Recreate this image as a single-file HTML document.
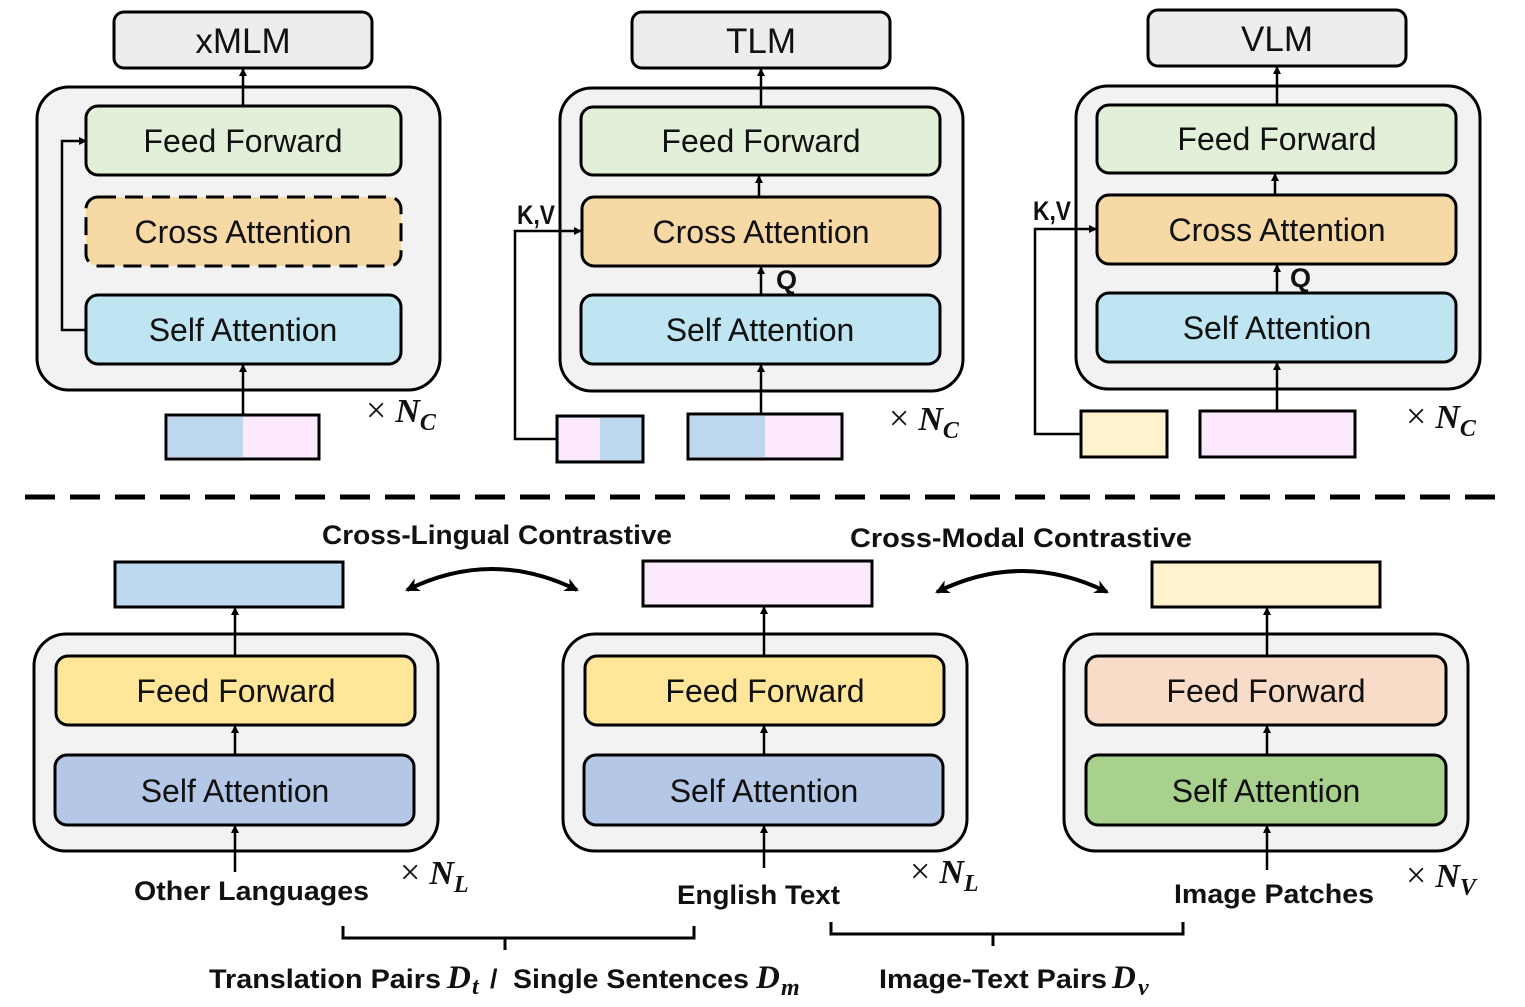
<!DOCTYPE html>
<html><head><meta charset="utf-8"><style>
html,body{margin:0;padding:0;background:#fff;}
svg{display:block;}
text{font-family:"Liberation Sans",sans-serif;}
.b{font-size:32px;fill:#111;text-anchor:middle;}
.t{font-size:35px;fill:#111;text-anchor:middle;}
.lb{font-weight:bold;font-size:27px;fill:#111;}
.m{font-family:"Liberation Serif",serif;font-style:italic;font-weight:bold;}
.x{font-family:"Liberation Serif",serif;font-size:36px;fill:#111;}
</style></head><body>
<svg width="1525" height="1007" viewBox="0 0 1525 1007" xmlns="http://www.w3.org/2000/svg">
<defs>
<marker id="ar" markerWidth="8" markerHeight="8" refX="7" refY="4" orient="auto" markerUnits="userSpaceOnUse"><path d="M0,0 L8,4 L0,8 z" fill="#000"/></marker>
<marker id="ar2" markerWidth="14" markerHeight="14" refX="12" refY="7" orient="auto" markerUnits="userSpaceOnUse"><path d="M0,0 L14,7 L0,14 L4,7 z" fill="#000"/></marker>
<marker id="ar2s" markerWidth="14" markerHeight="14" refX="2" refY="7" orient="auto" markerUnits="userSpaceOnUse"><path d="M14,0 L0,7 L14,14 L10,7 z" fill="#000"/></marker>
</defs>
<g stroke="#000" stroke-width="3">
<rect x="114" y="12" width="258" height="56" rx="10" fill="#ededed"/>
<rect x="37" y="87" width="403" height="303" rx="32" fill="#f2f2f2"/>
<rect x="86" y="106" width="315" height="69" rx="12" fill="#e2efd9"/>
<rect x="86" y="197" width="315" height="69" rx="12" fill="#f7d9a6" stroke-dasharray="18,9"/>
<rect x="86" y="295" width="315" height="69" rx="12" fill="#bfe5f2"/>
<rect x="166" y="415" width="153" height="44" fill="#fde9fd"/>
<rect x="168" y="417" width="75" height="40" fill="#bdd7ee" stroke="none"/>
<rect x="632" y="12" width="258" height="56" rx="10" fill="#ededed"/>
<rect x="560" y="88" width="403" height="303" rx="32" fill="#f2f2f2"/>
<rect x="581" y="107" width="359" height="68" rx="12" fill="#e2efd9"/>
<rect x="582" y="197" width="358" height="69" rx="12" fill="#f7d9a6"/>
<rect x="581" y="295" width="359" height="69" rx="12" fill="#bfe5f2"/>
<rect x="557" y="416" width="86" height="46" fill="#bdd7ee"/>
<rect x="559" y="418" width="41" height="42" fill="#fde9fd" stroke="none"/>
<rect x="688" y="414" width="154" height="45" fill="#fde9fd"/>
<rect x="690" y="416" width="75" height="41" fill="#bdd7ee" stroke="none"/>
<rect x="1148" y="10" width="258" height="56" rx="10" fill="#ededed"/>
<rect x="1076" y="86" width="404" height="303" rx="32" fill="#f2f2f2"/>
<rect x="1097" y="105" width="359" height="68" rx="12" fill="#e2efd9"/>
<rect x="1097" y="195" width="359" height="69" rx="12" fill="#f7d9a6"/>
<rect x="1097" y="293" width="359" height="69" rx="12" fill="#bfe5f2"/>
<rect x="1081" y="411" width="86" height="46" fill="#fff2cc"/>
<rect x="1200" y="411" width="155" height="46" fill="#fde9fd"/>
<rect x="115" y="562" width="228" height="45" fill="#bdd7ee"/>
<rect x="34" y="634" width="404" height="217" rx="32" fill="#f2f2f2"/>
<rect x="56" y="656" width="359" height="69" rx="12" fill="#ffe699"/>
<rect x="55" y="755" width="359" height="70" rx="12" fill="#b4c7e7"/>
<rect x="643" y="561" width="229" height="45" fill="#fde9fd"/>
<rect x="563" y="634" width="404" height="217" rx="32" fill="#f2f2f2"/>
<rect x="585" y="656" width="359" height="69" rx="12" fill="#ffe699"/>
<rect x="584" y="755" width="359" height="70" rx="12" fill="#b4c7e7"/>
<rect x="1152" y="562" width="228" height="45" fill="#fff2cc"/>
<rect x="1064" y="634" width="404" height="217" rx="32" fill="#f2f2f2"/>
<rect x="1086" y="656" width="360" height="69" rx="12" fill="#f8dcc8"/>
<rect x="1086" y="755" width="360" height="70" rx="12" fill="#a9d18e"/>
</g>
<g stroke="#000" stroke-width="2.5" fill="none" marker-end="url(#ar)">
<line x1="243" y1="106" x2="243" y2="69"/>
<line x1="243" y1="415" x2="243" y2="365"/>
<polyline points="86,330 62,330 62,141 86,141"/>
<line x1="761" y1="107" x2="761" y2="69"/>
<line x1="759" y1="197" x2="759" y2="176"/>
<line x1="761" y1="295" x2="761" y2="267"/>
<line x1="761" y1="414" x2="761" y2="365"/>
<polyline points="557,439 515,439 515,231 581,231"/>
<line x1="1277" y1="105" x2="1277" y2="67"/>
<line x1="1275" y1="195" x2="1275" y2="174"/>
<line x1="1277" y1="293" x2="1277" y2="265"/>
<line x1="1277" y1="411" x2="1277" y2="363"/>
<polyline points="1081,434 1035,434 1035,229 1096,229"/>
<line x1="235" y1="656" x2="235" y2="608"/>
<line x1="235" y1="755" x2="235" y2="726"/>
<line x1="235" y1="872" x2="235" y2="826"/>
<line x1="764" y1="656" x2="764" y2="607"/>
<line x1="764" y1="755" x2="764" y2="726"/>
<line x1="764" y1="868" x2="764" y2="826"/>
<line x1="1267" y1="656" x2="1267" y2="608"/>
<line x1="1267" y1="755" x2="1267" y2="726"/>
<line x1="1267" y1="870" x2="1267" y2="826"/>
</g>
<line x1="25" y1="497" x2="1497" y2="497" stroke="#000" stroke-width="5" stroke-dasharray="30,15"/>
<path d="M407,590 Q492,548 577,590" stroke="#000" stroke-width="4" fill="none" marker-end="url(#ar2)" marker-start="url(#ar2s)"/>
<path d="M937,592 Q1022,550 1107,592" stroke="#000" stroke-width="4" fill="none" marker-end="url(#ar2)" marker-start="url(#ar2s)"/>
<g stroke="#000" stroke-width="3" fill="none">
<polyline points="343,926 343,938 694,938 694,926"/>
<line x1="505" y1="938" x2="505" y2="950"/>
<polyline points="831,922 831,934 1183,934 1183,922"/>
<line x1="993" y1="934" x2="993" y2="946"/>
</g>
<text class="t" x="243" y="53">xMLM</text>
<text class="t" x="761" y="53">TLM</text>
<text class="t" x="1277" y="51">VLM</text>
<text class="b" x="243" y="152">Feed Forward</text>
<text class="b" x="243" y="243">Cross Attention</text>
<text class="b" x="243" y="341">Self Attention</text>
<text class="b" x="761" y="152">Feed Forward</text>
<text class="b" x="761" y="243">Cross Attention</text>
<text class="b" x="760" y="341">Self Attention</text>
<text class="b" x="1277" y="150">Feed Forward</text>
<text class="b" x="1277" y="241">Cross Attention</text>
<text class="b" x="1277" y="339">Self Attention</text>
<text class="b" x="236" y="702">Feed Forward</text>
<text class="b" x="235" y="802">Self Attention</text>
<text class="b" x="765" y="702">Feed Forward</text>
<text class="b" x="764" y="802">Self Attention</text>
<text class="b" x="1266" y="702">Feed Forward</text>
<text class="b" x="1266" y="802">Self Attention</text>
<text class="lb" x="517" y="224" font-size="22" textLength="38" lengthAdjust="spacingAndGlyphs">K,V</text>
<text class="lb" x="1033" y="220" font-size="22" textLength="38" lengthAdjust="spacingAndGlyphs">K,V</text>
<text class="lb" x="776" y="289" font-size="22">Q</text>
<text class="lb" x="1290" y="287" font-size="22">Q</text>
<text class="x" x="366" y="422">× <tspan class="m" font-size="34">N</tspan><tspan class="m" font-size="24" dy="8">C</tspan></text>
<text class="x" x="889" y="430">× <tspan class="m" font-size="34">N</tspan><tspan class="m" font-size="24" dy="8">C</tspan></text>
<text class="x" x="1406" y="428">× <tspan class="m" font-size="34">N</tspan><tspan class="m" font-size="24" dy="8">C</tspan></text>
<text class="x" x="400" y="884">× <tspan class="m" font-size="34">N</tspan><tspan class="m" font-size="24" dy="8">L</tspan></text>
<text class="x" x="910" y="883">× <tspan class="m" font-size="34">N</tspan><tspan class="m" font-size="24" dy="8">L</tspan></text>
<text class="x" x="1406" y="887">× <tspan class="m" font-size="34">N</tspan><tspan class="m" font-size="24" dy="8">V</tspan></text>
<text class="lb" x="322" y="544" textLength="350" lengthAdjust="spacingAndGlyphs">Cross-Lingual Contrastive</text>
<text class="lb" x="850" y="547" textLength="342" lengthAdjust="spacingAndGlyphs">Cross-Modal Contrastive</text>
<text class="lb" x="134" y="900" textLength="235" lengthAdjust="spacingAndGlyphs">Other Languages</text>
<text class="lb" x="677" y="904" textLength="163" lengthAdjust="spacingAndGlyphs">English Text</text>
<text class="lb" x="1174" y="903" textLength="200" lengthAdjust="spacingAndGlyphs">Image Patches</text>
<text class="lb" x="209" y="988" textLength="232" lengthAdjust="spacingAndGlyphs">Translation Pairs</text>
<text class="m" x="447" y="988" font-size="33" fill="#111">D</text>
<text class="m" x="472" y="994" font-size="24" font-weight="normal" fill="#111">t</text>
<text class="lb" x="490" y="988" font-size="30" font-weight="normal">/</text>
<text class="lb" x="513" y="988" textLength="236" lengthAdjust="spacingAndGlyphs">Single Sentences</text>
<text class="m" x="756" y="988" font-size="33" fill="#111">D</text>
<text class="m" x="781" y="995" font-size="24" font-weight="normal" fill="#111">m</text>
<text class="lb" x="879" y="988" textLength="228" lengthAdjust="spacingAndGlyphs">Image-Text Pairs</text>
<text class="m" x="1112" y="988" font-size="33" fill="#111">D</text>
<text class="m" x="1138" y="995" font-size="24" font-weight="normal" fill="#111">v</text>
</svg>
</body></html>
